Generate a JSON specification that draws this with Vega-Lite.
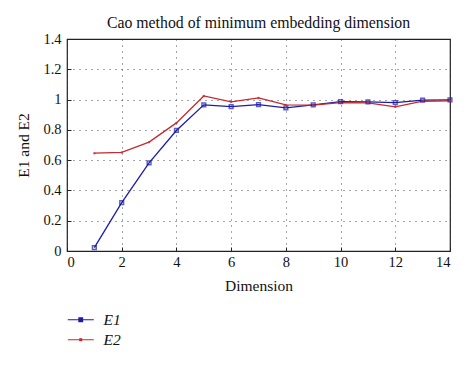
{
  "$schema": "https://vega.github.io/schema/vega-lite/v6.json",
  "width": 383,
  "height": 212,
  "autosize": "none",
  "padding": {"left": 67, "top": 39, "right": 24, "bottom": 115},
  "title": {"text": "Cao method of minimum embedding dimension", "font": "Liberation Serif", "fontSize": 15.8, "fontWeight": "normal", "color": "#111", "offset": -1, "anchor": "middle"},
  "config": {
    "view": {"stroke": "#222", "strokeWidth": 1.2},
    "axis": {"labelFont": "Liberation Serif", "labelFontSize": 14.5, "labelColor": "#111", "titleFont": "Liberation Serif", "titleFontSize": 15.5, "titleFontWeight": "normal", "titleColor": "#111", "domain": false, "tickColor": "#222", "tickSize": -4, "gridColor": "#222", "gridDash": [1, 5], "gridOpacity": 0.8, "gridWidth": 1},
    "legend": {"labelFont": "Liberation Serif", "labelFontSize": 15.5, "labelFontStyle": "italic", "labelColor": "#111"}
  },
  "data": {"values": [
    {"d": 1, "s": "E1", "v": 0.022}, {"d": 2, "s": "E1", "v": 0.319}, {"d": 3, "s": "E1", "v": 0.582}, {"d": 4, "s": "E1", "v": 0.796},
    {"d": 5, "s": "E1", "v": 0.965}, {"d": 6, "s": "E1", "v": 0.954}, {"d": 7, "s": "E1", "v": 0.967}, {"d": 8, "s": "E1", "v": 0.945},
    {"d": 9, "s": "E1", "v": 0.965}, {"d": 10, "s": "E1", "v": 0.987}, {"d": 11, "s": "E1", "v": 0.985}, {"d": 12, "s": "E1", "v": 0.980},
    {"d": 13, "s": "E1", "v": 0.996}, {"d": 14, "s": "E1", "v": 0.998},
    {"d": 1, "s": "E2", "v": 0.646}, {"d": 2, "s": "E2", "v": 0.651}, {"d": 3, "s": "E2", "v": 0.719}, {"d": 4, "s": "E2", "v": 0.846},
    {"d": 5, "s": "E2", "v": 1.024}, {"d": 6, "s": "E2", "v": 0.985}, {"d": 7, "s": "E2", "v": 1.011}, {"d": 8, "s": "E2", "v": 0.965},
    {"d": 9, "s": "E2", "v": 0.963}, {"d": 10, "s": "E2", "v": 0.980}, {"d": 11, "s": "E2", "v": 0.978}, {"d": 12, "s": "E2", "v": 0.952},
    {"d": 13, "s": "E2", "v": 0.989}, {"d": 14, "s": "E2", "v": 0.991}
  ]},
  "encoding": {
    "x": {"field": "d", "type": "quantitative", "scale": {"domain": [0, 14], "nice": false}, "axis": {"values": [0, 2, 4, 6, 8, 10, 12, 14], "title": "Dimension", "labelPadding": 8, "titlePadding": 10}},
    "y": {"field": "v", "type": "quantitative", "scale": {"domain": [0, 1.4], "nice": false}, "axis": {"values": [0, 0.2, 0.4, 0.6, 0.8, 1, 1.2, 1.4], "format": "~g", "title": "E1 and E2", "labelPadding": 10, "titlePadding": 11}},
    "color": {"field": "s", "type": "nominal", "scale": {"domain": ["E1", "E2"], "range": ["#1c1ca8", "#c42a2e"]},
      "legend": {"title": null, "orient": "none", "legendX": 6, "legendY": 273, "direction": "vertical", "symbolSize": 169, "symbolStrokeWidth": 1.2, "rowPadding": 3, "labelOffset": 15,
        "encode": {"symbols": {"update": {"shape": {"signal": "datum.value === 'E1' ? 'M-2,0H2M-0.28,-0.28H0.28V0.28H-0.28Z' : 'M-2,0H2M-0.14,-0.14H0.14V0.14H-0.14Z'"}, "fill": {"value": "transparent"}}}}}}
  },
  "layer": [
    {"mark": {"type": "line", "strokeWidth": 1.3}},
    {"transform": [{"filter": "datum.s === 'E1'"}], "mark": {"type": "point", "shape": "square", "size": 14, "filled": false, "strokeWidth": 1.5, "color": "#2a2ae0"}},
    {"transform": [{"filter": "datum.s === 'E2'"}], "mark": {"type": "point", "shape": "circle", "size": 6, "filled": true, "color": "#c42a2e"}}
  ]
}
